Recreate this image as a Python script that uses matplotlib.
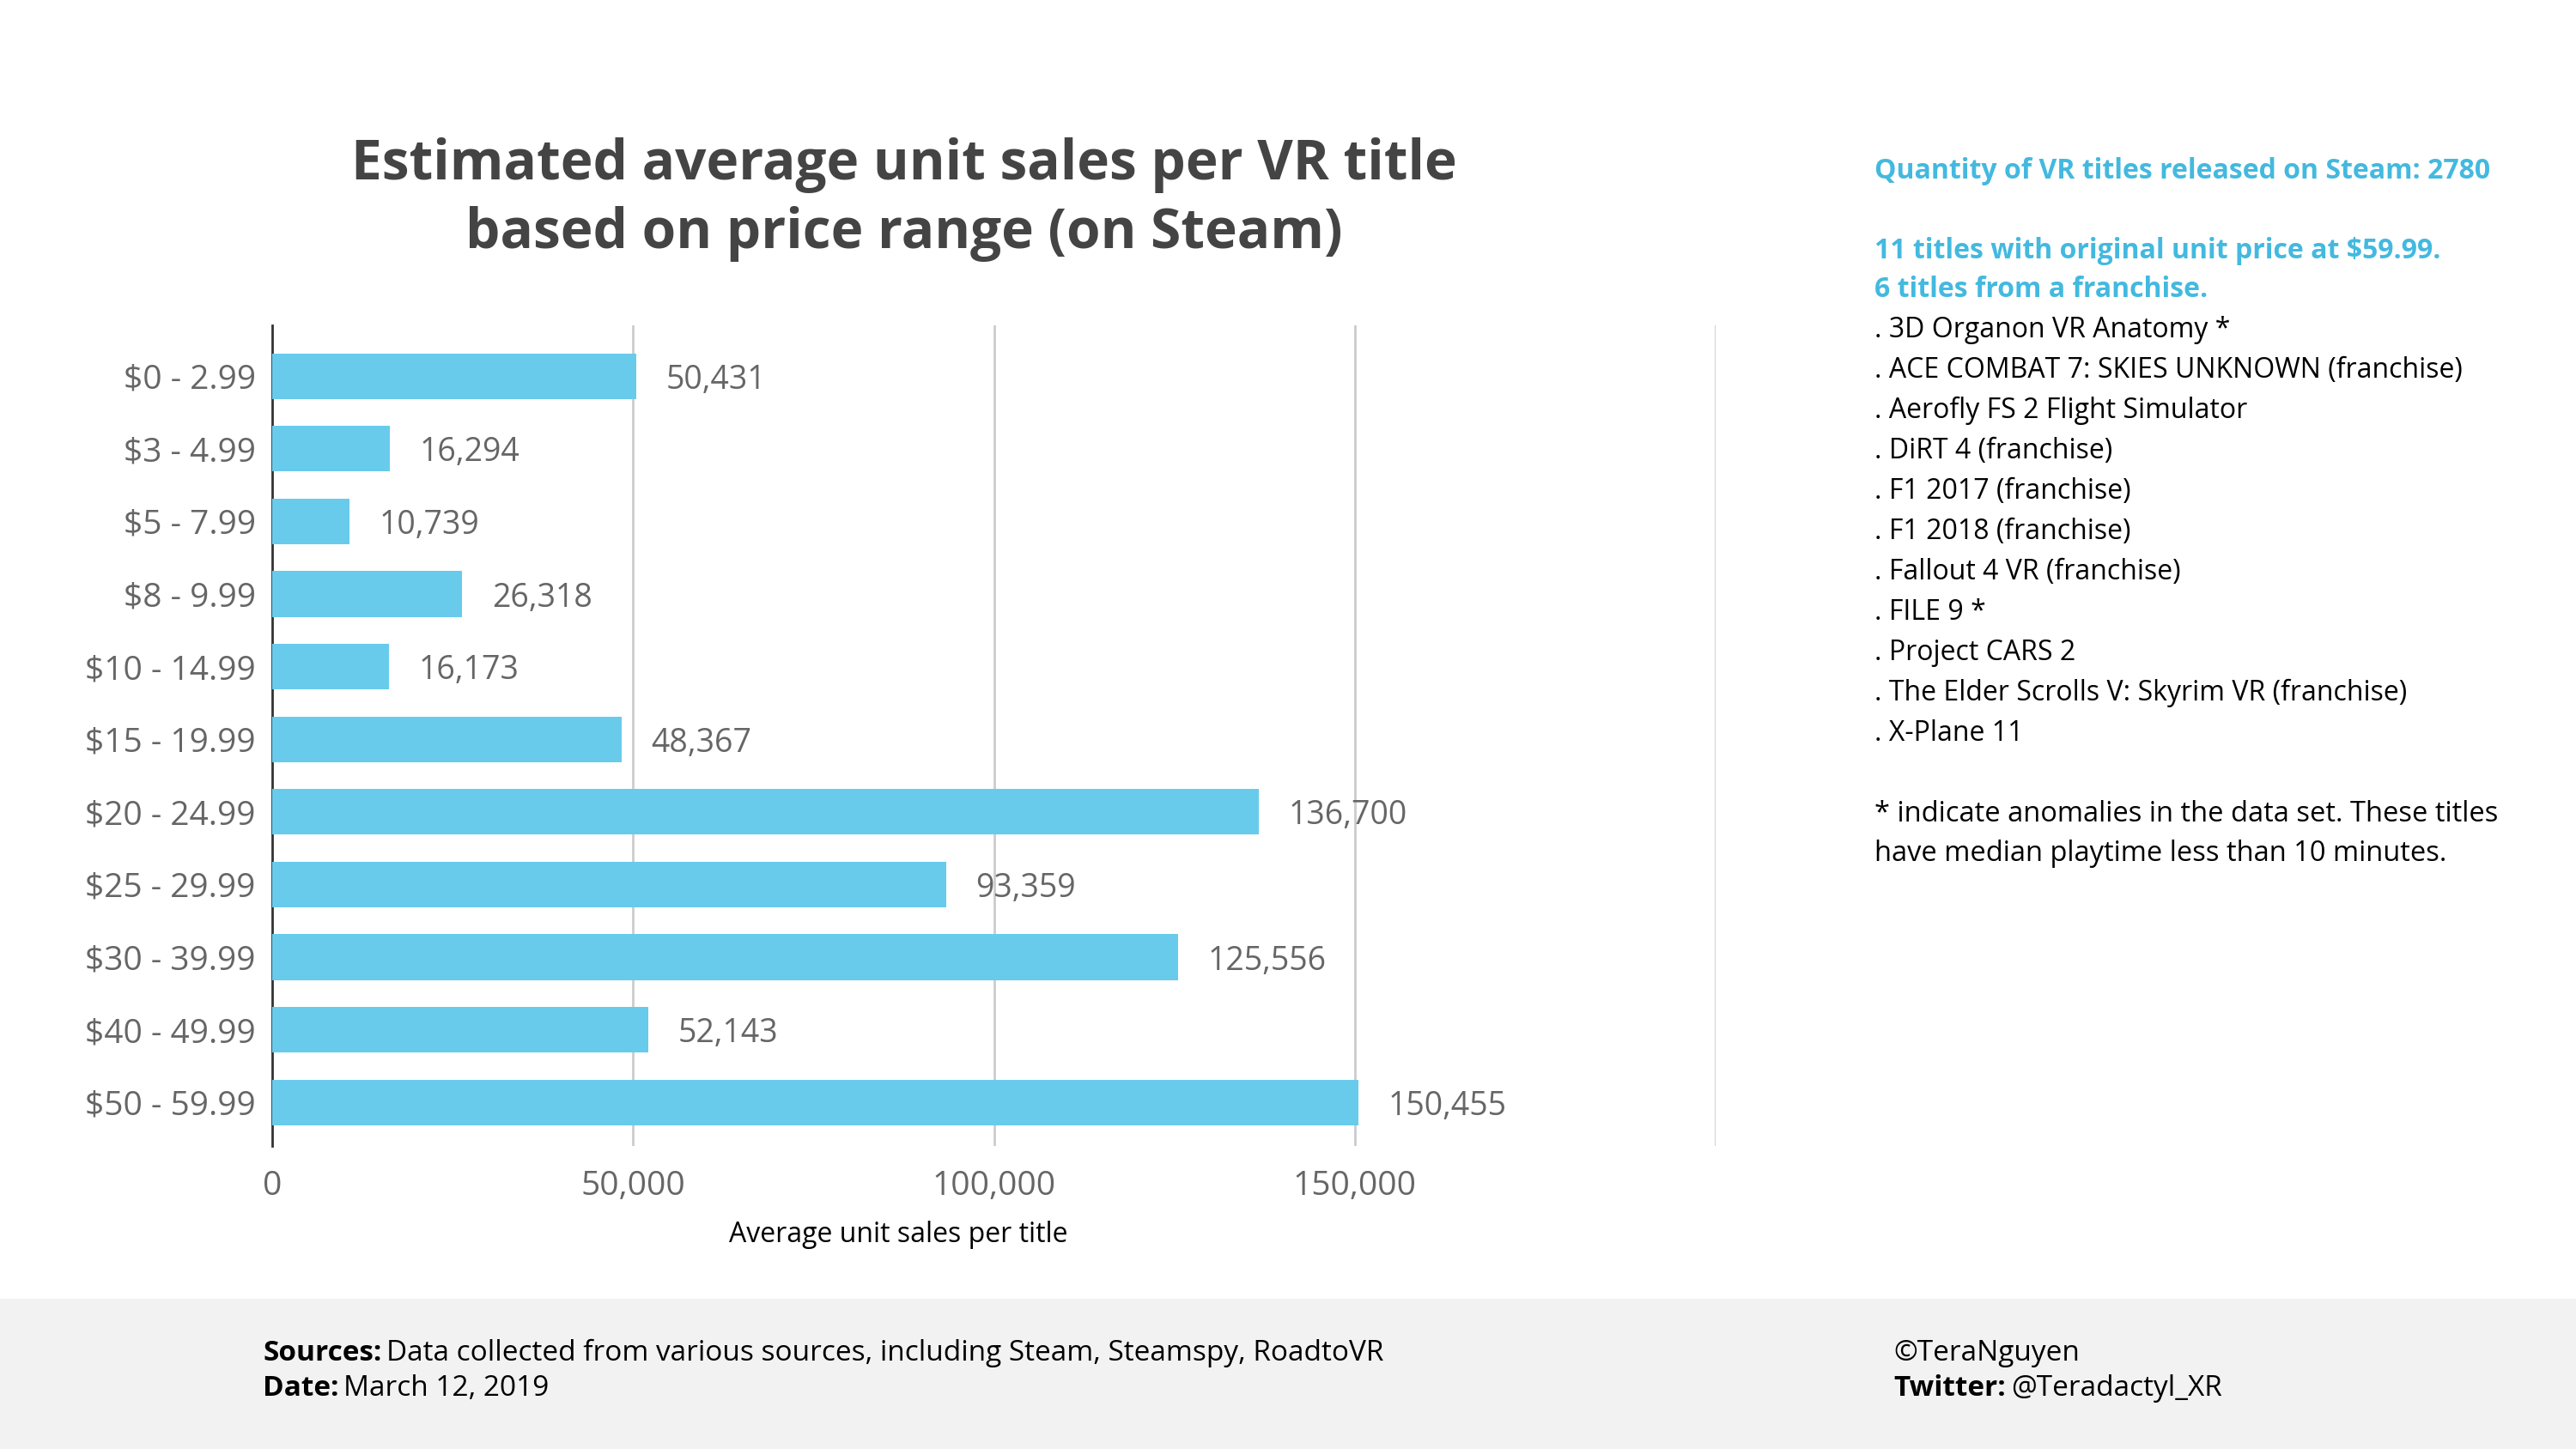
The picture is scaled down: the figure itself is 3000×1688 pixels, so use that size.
import matplotlib.pyplot as plt
from matplotlib.patches import Rectangle

price_ranges = ['$0 - 2.99', '$3 - 4.99', '$5 - 7.99', '$8 - 9.99', '$10 - 14.99',
                '$15 - 19.99', '$20 - 24.99', '$25 - 29.99', '$30 - 39.99',
                '$40 - 49.99', '$50 - 59.99']
avg_sales = [50431, 16294, 10739, 26318, 16173, 48367, 136700, 93359, 125556, 52143, 150455]
x_ticks = [0, 50000, 100000, 150000]

titles_59 = ['. 3D Organon VR Anatomy *',
             '. ACE COMBAT 7: SKIES UNKNOWN (franchise)',
             '. Aerofly FS 2 Flight Simulator',
             '. DiRT 4 (franchise)',
             '. F1 2017 (franchise)',
             '. F1 2018 (franchise)',
             '. Fallout 4 VR (franchise)',
             '. FILE 9 *',
             '. Project CARS 2',
             '. The Elder Scrolls V: Skyrim VR (franchise)',
             '. X-Plane 11']

BLUE = '#68cbeb'
TEXT_BLUE = '#43b9df'
GREY = '#666666'

plt.rcParams['font.family'] = ['Open Sans', 'DejaVu Sans']

fig = plt.figure(figsize=(30, 16.88), dpi=100)
renderer = fig.canvas.get_renderer()

# grey footer band
fig.patches.append(Rectangle((0, 0), 1, 0.1037, transform=fig.transFigure,
                             facecolor='#f2f2f2', edgecolor='none', zorder=0))

ax = fig.add_axes([0.1057, 0.2091, 0.5603, 0.5664])
y = range(len(price_ranges))
ax.barh(y, avg_sales, height=0.63, color=BLUE, zorder=3)
for i, v in enumerate(avg_sales):
    ax.annotate('{:,}'.format(v), (v, i), xytext=(25, 0), textcoords='offset points',
                va='center_baseline', ha='left', fontsize=27, color=GREY)

ax.set_xlim(0, 200000)
ax.set_ylim(10.6, -0.7)
ax.set_yticks(list(y))
ax.set_yticklabels(price_ranges, fontsize=28, color=GREY, va='center_baseline')
ax.set_xticks(x_ticks)
ax.set_xticklabels(['{:,}'.format(t) for t in x_ticks], fontsize=28, color=GREY)
ax.tick_params(length=0, axis='y', pad=14)
ax.tick_params(length=0, axis='x', pad=20)
for xv in [50000, 100000, 150000, 200000]:
    ax.axvline(xv, color='#cccccc', lw=2, zorder=1)
for s in ['top', 'right', 'bottom']:
    ax.spines[s].set_visible(False)
ax.spines['left'].set_color('#333333')
ax.spines['left'].set_linewidth(2)

fig.text(0.3487, 0.148, 'Average unit sales per title', fontsize=23, color='black',
         ha='center', va='center')

fig.text(0.351, 0.905, 'Estimated average unit sales per VR title\nbased on price range (on Steam)',
         ha='center', va='top', fontsize=46, fontweight='bold', color='#444444',
         linespacing=1.3)

# right side notes
rx = 0.7277
fig.text(rx, 0.882, 'Quantity of VR titles released on Steam: 2780', fontsize=23,
         fontweight='bold', color=TEXT_BLUE, va='center')
fig.text(rx, 0.827, '11 titles with original unit price at $59.99.', fontsize=23,
         fontweight='bold', color=TEXT_BLUE, va='center')
fig.text(rx, 0.800, '6 titles from a franchise.', fontsize=23,
         fontweight='bold', color=TEXT_BLUE, va='center')
step = 0.0278
for k, t in enumerate(titles_59):
    fig.text(rx, 0.772 - k * step, t, fontsize=23, color='black', va='center')
fig.text(rx, 0.438, '* indicate anomalies in the data set. These titles', fontsize=23.5,
         color='black', va='center')
fig.text(rx, 0.411, 'have median playtime less than 10 minutes.', fontsize=23.5,
         color='black', va='center')


def label_pair(x, yy, bold, normal, size=24):
    t = fig.text(x, yy, bold, fontsize=size, fontweight='bold', va='center')
    bb = t.get_window_extent(renderer=renderer)
    x2 = bb.x1 / fig.bbox.width + 0.002
    fig.text(x2, yy, normal, fontsize=size, va='center')


# footer
label_pair(0.102, 0.066, 'Sources:', 'Data collected from various sources, including Steam, Steamspy, RoadtoVR')
label_pair(0.102, 0.042, 'Date:', 'March 12, 2019')
fig.text(0.735, 0.066, '©TeraNguyen', fontsize=24, va='center')
label_pair(0.735, 0.042, 'Twitter:', '@Teradactyl_XR')

fig.savefig('out.png', dpi=100)
